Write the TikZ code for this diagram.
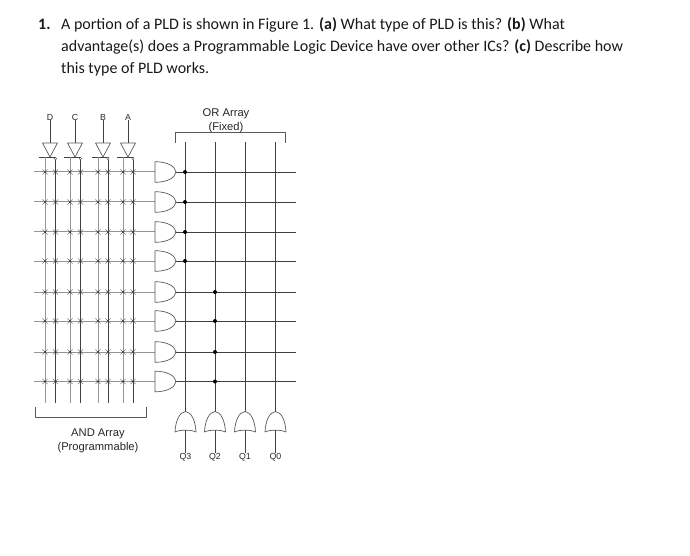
\documentclass[tikz,border=0pt]{standalone}
\usepackage{fontspec}
\setmainfont{Carlito}
\newfontfamily\labelfont{Liberation Sans}
\usetikzlibrary{positioning}
\tikzset{
  wire/.style={line width=0.9bp,black!75},
  pale/.style={line width=1bp,black!42},
  box/.style={line width=0.7bp,black!65},
  gatelabel/.style={font=\labelfont\fontsize{11.2bp}{14bp}\selectfont,align=center,inner sep=0pt,text=black!85},
  pinlabel/.style={font=\labelfont\fontsize{8.8bp}{10bp}\selectfont,inner sep=0pt,text=black!85},
  para/.style={font=\fontsize{16bp}{20bp}\selectfont,anchor=base west,inner sep=0pt,text=black!90},
  fuse/.style={circle,fill=black,inner sep=0pt,minimum size=4bp},
  xfuse/.style={circle,fill=black!80,inner sep=0pt,minimum size=2.4bp},
  bubble/.style={circle,draw=black!70,fill=white,line width=0.4bp,inner sep=0pt,minimum size=2.6bp},
}
\begin{document}
\begin{tikzpicture}[x=1bp,y=-1bp,>=latex,line join=bevel]
  \useasboundingbox (0,0) rectangle (690,556);
  % Question
  \node[para] (num) at (38,30) {\textbf{1.}};
  \node[para] (line1) at (61,30) {A portion of a PLD is shown in Figure 1. \textbf{(a)} What type of PLD is this? \textbf{(b)} What};
  \node[para] (line2) at (61,52) {advantage(s) does a Programmable Logic Device have over other ICs? \textbf{(c)} Describe how};
  \node[para] (line3) at (61,73.5) {this type of PLD works.};
  % Array labels
  \node[gatelabel] (orlabel) at (226,120.5) {OR Array\\(Fixed)};
  \node[gatelabel] (andlabel) at (98,440.5) {AND Array\\(Programmable)};
  \draw[box] (175,143) -- (175,132.5) -- (285,132.5) -- (285,143);
  \draw[box] (35,407) -- (35,417) -- (146,417) -- (146,407);
  % Inputs
  \foreach \name/\x/\tr/\co in {D/50/45/55.5,C/75/70/80.5,B/103/98/108,A/128/123/133}{
    \node[pinlabel] (in\name) at (\x,117) {\name};
    \coordinate (top\name) at (\x,143);
    \coordinate (tip\name) at (\x,157);
    \draw[wire] (in\name) -- (top\name);
    \draw[box] (\x-7.5,143) -- (\x+7.5,143) -- (tip\name) -- cycle;
    \draw[wire] (\x-11,157.3) -- (\x+5.5,157.3);
    \draw[pale] (\tr,157.3) -- (\tr,403);
    \draw[wire] (\co,160) -- (\co,403);
    \node[bubble] (inv\name) at (\co,158.6) {};
  }
  % Output columns
  \foreach \name/\x in {Q3/185.5,Q2/215,Q1/245,Q0/275.5}{
    \node[pinlabel] (out\name) at (\x,457.5) {\name};
    \coordinate (gate\name) at (\x,430);
    \draw[wire] (\x,142) -- (\x,412);
    \draw[box] (\x-10.5,432) .. controls (\x-10,421) and (\x-6,412) .. (\x,411.5)
      .. controls (\x+6,412) and (\x+10,421) .. (\x+10.5,432)
      .. controls (\x+5,429.5) and (\x-5,429.5) .. cycle;
    \draw[wire] (gate\name) -- (out\name);
  }
  % Product rows
  \foreach \row/\y in {r1/172,r2/202,r3/232,r4/261,r5/292,r6/321,r7/352,r8/381.5}{
    \coordinate (\row) at (155,\y);
    \draw[pale] (34,\y) -- (\row);
    \draw[wire] (175.5,\y) -- (296,\y);
    \draw[box] (155,\y-10.3) .. controls (167,\y-10.3) and (175,\y-6) .. (176,\y)
      .. controls (175,\y+6) and (167,\y+10.3) .. (155,\y+10.3) -- cycle;
    \foreach \x in {45,55.5,70,80.5,98,108,123,133}{
      \draw[black!50,line width=0.6bp] (\x-2.6,\y-2.6) -- (\x+2.6,\y+2.6) (\x-2.6,\y+2.6) -- (\x+2.6,\y-2.6);
      \node[xfuse] at (\x,\y) {};
    }
  }
  % Connections
  \foreach \y in {172,202,232,261}{
    \node[fuse] at (185,\y) {};
  }
  \foreach \y in {292,321,352,381.5}{
    \node[fuse] at (215,\y) {};
  }
\end{tikzpicture}
\end{document}
